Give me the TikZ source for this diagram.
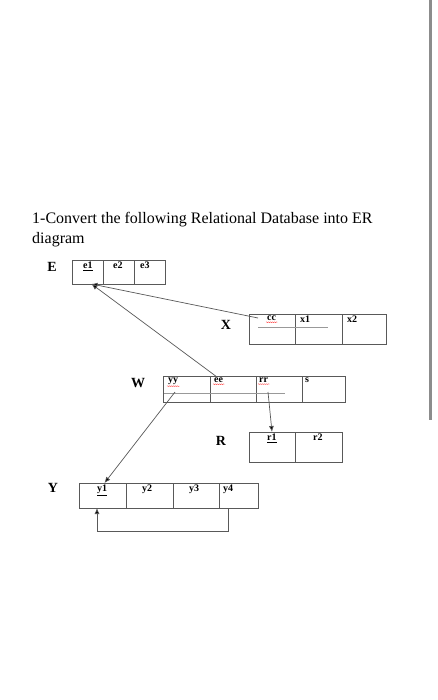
\documentclass[tikz,border=0pt]{standalone}
\usepackage{fontspec}
\setmainfont{Liberation Serif}
\usetikzlibrary{arrows.meta, positioning, calc, decorations.pathmorphing}
\tikzstyle{cell}=[draw=black!65, rectangle, inner sep=0pt, outer sep=0pt]
\tikzstyle{lbl}=[anchor=north west, inner sep=1pt, yshift=-1pt, font=\bfseries\fontsize{10}{10}\selectfont]
\tikzstyle{ent}=[font=\bfseries\fontsize{14}{14}\selectfont]
\tikzstyle{link}=[draw=black!65, line width=0.7pt]
\tikzstyle{spell}=[draw=red!70, line width=0.4pt, decorate, decoration={snake, amplitude=0.4pt, segment length=2pt}]
\newcommand{\key}[1]{\underline{#1}}

\begin{document}
\begin{tikzpicture}[x=1pt, y=-1pt, >={Latex[length=6pt, width=5pt, fill=black]}]
  \useasboundingbox[fill=white] (0,0) rectangle (437,700);
  \draw[black!45, line width=3pt] (430,0) -- (430,420);
  \node[anchor=north west, inner sep=0pt, align=left, font=\fontsize{16}{20}\selectfont] (title) at (32,212)
    {1-Convert the following Relational Database into ER\\diagram};
  % E
  \node[ent] (Ename) at (52,267) {E};
  \node[cell, anchor=north west, minimum width=31pt, minimum height=24pt, label={[lbl, xshift=10pt]north west:\key{e1}}] (e1) at (72,260) {};
  \node[cell, right=0pt of e1, minimum width=31pt, minimum height=24pt, label={[lbl, xshift=9pt]north west:e2}] (e2) {};
  \node[cell, right=0pt of e2, minimum width=31pt, minimum height=24pt, label={[lbl, xshift=5pt]north west:e3}] (e3) {};
  % X
  \node[ent] (Xname) at (226,325) {X};
  \node[cell, anchor=north west, minimum width=46pt, minimum height=30pt, label={[lbl, xshift=17pt, name=cct]north west:cc}] (cc) at (249,314) {};
  \node[cell, right=0pt of cc, minimum width=47pt, minimum height=30pt, label={[lbl, xshift=4pt]north west:x1}] (x1) {};
  \node[cell, right=0pt of x1, minimum width=44pt, minimum height=30pt, label={[lbl, xshift=4pt]north west:x2}] (x2) {};
  % W
  \node[ent] (Wname) at (138,383) {W};
  \node[cell, anchor=north west, minimum width=47pt, minimum height=26pt, label={[lbl, xshift=4pt, name=yyt]north west:yy}] (yy) at (163,376) {};
  \node[cell, right=0pt of yy, minimum width=46pt, minimum height=26pt, label={[lbl, xshift=3pt, name=eet]north west:ee}] (ee) {};
  \node[cell, right=0pt of ee, minimum width=46pt, minimum height=26pt, label={[lbl, xshift=2pt, name=rrt]north west:rr}] (rr) {};
  \node[cell, right=0pt of rr, minimum width=43pt, minimum height=26pt, label={[lbl, xshift=2pt]north west:s}] (s) {};
  % R
  \node[ent] (Rname) at (221,441) {R};
  \node[cell, anchor=north west, minimum width=46pt, minimum height=30pt, label={[lbl, xshift=17pt]north west:\key{r1}}] (r1) at (249,432) {};
  \node[cell, right=0pt of r1, minimum width=47pt, minimum height=30pt, label={[lbl, xshift=17pt]north west:r2}] (r2) {};
  % Y
  \node[ent] (Yname) at (53,488) {Y};
  \node[cell, anchor=north west, minimum width=47pt, minimum height=25pt, label={[lbl, xshift=17pt]north west:\key{y1}}] (y1) at (79,483) {};
  \node[cell, right=0pt of y1, minimum width=47pt, minimum height=25pt, label={[lbl, xshift=15pt]north west:y2}] (y2) {};
  \node[cell, right=0pt of y2, minimum width=46pt, minimum height=25pt, label={[lbl, xshift=15pt]north west:y3}] (y3) {};
  \node[cell, right=0pt of y3, minimum width=39pt, minimum height=25pt, label={[lbl, xshift=3pt]north west:y4}] (y4) {};
  % stray lines and spell marks
  \draw[black!40, line width=0.6pt] ($(cc.north west)+(9,13)$) -- ($(x1.north west)+(33,13)$);
  \draw[black!40, line width=0.6pt] ($(yy.north west)+(1,17)$) -- ($(rr.north west)+(29,17)$);
  \draw[spell] (cct.south west) -- (cct.south east);
  \draw[spell] (yyt.south west) -- (yyt.south east);
  \draw[spell] (eet.south west) -- (eet.south east);
  \draw[spell] (rrt.south west) -- (rrt.south east);
  % links
  \draw[link, ->] ($(cc.north west)+(9,4)$) -- ($(e1.south)+(4,0)$);
  \draw[link, ->] ($(ee.north west)+(7,1)$) -- ($(e1.south)+(4,0)$);
  \draw[link, ->] ($(yy.north west)+(12,16)$) -- ($(y1.north)+(2,0)$);
  \draw[link, ->] ($(rr.north west)+(12,16)$) -- (r1.north);
  \draw[link, ->] ($(y4.south west)+(9,0)$) -- ++(0,23) -| ($(y1.south west)+(18,0)$);
\end{tikzpicture}
\end{document}
